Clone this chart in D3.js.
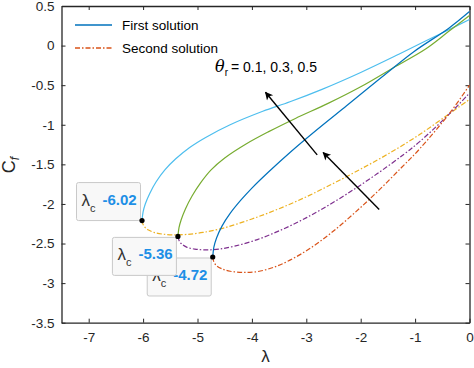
<!DOCTYPE html>
<html>
<head>
<meta charset="utf-8">
<script src="https://cdn.jsdelivr.net/npm/d3@7"></script>
<style>
  html, body { margin: 0; padding: 0; background: #fff; }
  svg { display: block; font-family: "Liberation Sans", Arial, sans-serif; }
</style>
</head>
<body>
<svg id="chart" width="474" height="368"></svg>
<script>
// ---------- data ----------
const xTicks = [-7, -6, -5, -4, -3, -2, -1, 0];
const yTicks = [0.5, 0, -0.5, -1, -1.5, -2, -2.5, -3, -3.5];
const thetaLabels = ["0.1", "0.3", "0.5"];

// critical points (lambda_c, Cf at turning point)
const lambdaC = [-6.02, -5.36, -4.72];
const cfC = [-2.21, -2.41, -2.67];

// First solution (upper branches)
const first1Lam = [-6.02, -6.00, -5.96, -5.88, -5.76, -5.60, -5.40, -5.15, -4.85, -4.40, -3.80, -3.30, -2.70, -2.00, -1.30, -0.80, -0.38, 0];
const first1Cf  = [-2.21, -2.10, -2.00, -1.87, -1.72, -1.57, -1.43, -1.29, -1.16, -1.00, -0.83, -0.71, -0.55, -0.34, -0.11, 0.06, 0.20, 0.33];
const first2Lam = [-5.36, -5.34, -5.30, -5.22, -5.10, -4.95, -4.75, -4.50, -4.10, -3.70, -3.20, -2.60, -2.00, -1.40, -0.80, -0.38, 0];
const first2Cf  = [-2.41, -2.30, -2.20, -2.06, -1.90, -1.74, -1.57, -1.42, -1.24, -1.09, -0.92, -0.73, -0.52, -0.28, -0.04, 0.18, 0.38];
const first3Lam = [-4.72, -4.70, -4.65, -4.55, -4.40, -4.20, -4.00, -3.70, -3.30, -2.80, -2.26, -1.65, -1.03, -0.38, 0];
const first3Cf  = [-2.67, -2.55, -2.43, -2.28, -2.12, -1.95, -1.80, -1.60, -1.35, -1.06, -0.76, -0.42, -0.08, 0.22, 0.43];

// Second solution (lower branches)
const second1Lam = [-6.02, -6.00, -5.96, -5.90, -5.80, -5.65, -5.45, -5.20, -4.90, -4.50, -4.00, -3.50, -3.00, -2.50, -2.00, -1.50, -0.91, -0.35, 0];
const second1Cf  = [-2.21, -2.26, -2.30, -2.33, -2.36, -2.38, -2.39, -2.385, -2.36, -2.30, -2.19, -2.06, -1.91, -1.74, -1.56, -1.37, -1.12, -0.85, -0.68];
const second2Lam = [-5.36, -5.34, -5.30, -5.20, -5.05, -4.85, -4.60, -4.30, -3.90, -3.50, -3.10, -2.70, -2.20, -1.70, -1.20, -0.91, -0.35, 0];
const second2Cf  = [-2.41, -2.46, -2.50, -2.545, -2.57, -2.58, -2.57, -2.53, -2.45, -2.34, -2.21, -2.06, -1.85, -1.62, -1.37, -1.21, -0.85, -0.60];
const second3Lam = [-4.72, -4.70, -4.65, -4.55, -4.40, -4.15, -3.90, -3.60, -3.30, -2.95, -2.55, -2.14, -1.70, -1.25, -0.91, -0.35, 0];
const second3Cf  = [-2.67, -2.73, -2.78, -2.82, -2.85, -2.865, -2.855, -2.80, -2.71, -2.57, -2.37, -2.13, -1.85, -1.54, -1.30, -0.84, -0.50];

const firstColors = ["#4DBEEE", "#77AC30", "#0072BD"];
const secondColors = ["#EDB120", "#7E2F8E", "#D95319"];

// ---------- setup ----------
const svg = d3.select("#chart");
const L = 61.5, R = 469.5, T = 6, B = 322.7;
const x = d3.scaleLinear().domain([-7.5, 0]).range([L, R]);
const y = d3.scaleLinear().domain([-3.5, 0.5]).range([B, T]);
const axisColor = "#262626";

// ---------- axes ----------
const fmt = d => String(d);
const gx = svg.append("g").attr("transform", `translate(0,${B})`)
  .call(d3.axisBottom(x).tickValues(xTicks).tickFormat(fmt).tickSizeInner(-4).tickSizeOuter(0).tickPadding(10));
const gy = svg.append("g").attr("transform", `translate(${L},0)`)
  .call(d3.axisLeft(y).tickValues(yTicks).tickFormat(fmt).tickSizeInner(-4).tickSizeOuter(0).tickPadding(7));
const gxt = svg.append("g").attr("transform", `translate(0,${T})`)
  .call(d3.axisTop(x).tickValues(xTicks).tickFormat("").tickSizeInner(-4).tickSizeOuter(0));
const gyr = svg.append("g").attr("transform", `translate(${R},0)`)
  .call(d3.axisRight(y).tickValues(yTicks).tickFormat("").tickSizeInner(-4).tickSizeOuter(0));
[gx, gy, gxt, gyr].forEach(g => {
  g.select(".domain").attr("stroke", axisColor).attr("stroke-width", 1.3);
  g.selectAll(".tick line").attr("stroke", axisColor).attr("stroke-width", 1);
  g.selectAll(".tick text").attr("fill", axisColor).style("font-size", "13.5px");
});

// axis labels
svg.append("text").attr("x", (L + R) / 2).attr("y", 362).attr("text-anchor", "middle")
  .style("font-size", "17px").attr("fill", axisColor).text("λ");
const yl = svg.append("text").attr("transform", "translate(15,165) rotate(-90)")
  .attr("text-anchor", "middle").style("font-size", "18px").attr("fill", axisColor);
yl.append("tspan").text("C");
yl.append("tspan").attr("dy", 4).style("font-size", "12px").style("font-style", "italic").text("f");

// ---------- curves ----------
const line = d3.line().x(d => x(d[0])).y(d => y(d[1])).curve(d3.curveCatmullRom.alpha(0.5));
const firsts = [[first1Lam, first1Cf], [first2Lam, first2Cf], [first3Lam, first3Cf]];
const seconds = [[second1Lam, second1Cf], [second2Lam, second2Cf], [second3Lam, second3Cf]];

seconds.forEach((s, i) => {
  svg.append("path").datum(d3.zip(s[0], s[1])).attr("d", line)
    .attr("fill", "none").attr("stroke", secondColors[i]).attr("stroke-width", 1.2)
    .attr("stroke-dasharray", "5,2,1.5,2");
});
firsts.forEach((s, i) => {
  svg.append("path").datum(d3.zip(s[0], s[1])).attr("d", line)
    .attr("fill", "none").attr("stroke", firstColors[i]).attr("stroke-width", 1.2);
});

// ---------- legend ----------
const legendItems = [
  { label: "First solution", color: "#0072BD", dash: null, yy: 25 },
  { label: "Second solution", color: "#D95319", dash: "5,2,1.5,2", yy: 48 }
];
legendItems.forEach(it => {
  svg.append("line").attr("x1", 75).attr("x2", 112).attr("y1", it.yy).attr("y2", it.yy)
    .attr("stroke", it.color).attr("stroke-width", 1.3).attr("stroke-dasharray", it.dash);
  svg.append("text").attr("x", 122).attr("y", it.yy + 5).style("font-size", "13.5px")
    .attr("fill", "#000").text(it.label);
});

// ---------- theta annotation ----------
const ann = svg.append("text").attr("x", 215).attr("y", 72).style("font-size", "14px").attr("fill", "#000");
ann.append("tspan").style("font-family", "DejaVu Serif, serif").style("font-style", "italic").style("font-size", "16px").text("θ");
ann.append("tspan").attr("dy", 4).style("font-size", "10px").text("r");
ann.append("tspan").attr("dy", -4).attr("dx", 3).text("= " + thetaLabels.join(", "));

// arrows
const defs = svg.append("defs");
defs.append("marker").attr("id", "ah").attr("viewBox", "0 0 10 10").attr("refX", 9).attr("refY", 5)
  .attr("markerWidth", 11).attr("markerHeight", 8).attr("markerUnits", "userSpaceOnUse").attr("orient", "auto")
  .append("path").attr("d", "M0,0 L10,5 L0,10 L2.5,5 Z").attr("fill", "#000");
const arrows = [
  [[-2.8, -1.38], [-3.75, -0.59]],
  [[-1.66, -2.07], [-2.69, -1.35]]
];
arrows.forEach(a => {
  svg.append("line").attr("x1", x(a[0][0])).attr("y1", y(a[0][1]))
    .attr("x2", x(a[1][0])).attr("y2", y(a[1][1]))
    .attr("stroke", "#000").attr("stroke-width", 1.4).attr("marker-end", "url(#ah)");
});

// ---------- data tips ----------
const boxW = 64, boxH = 38;
const anchors = ["br", "tr", "tr"];
const order = [2, 1, 0];
order.forEach(i => {
  const px = x(lambdaC[i]) - 1.5, py = y(cfC[i]);
  const bx = px - boxW;
  const by = anchors[i] === "br" ? py - boxH : py + 1;
  const g = svg.append("g");
  g.append("rect").attr("x", bx).attr("y", by).attr("width", boxW).attr("height", boxH)
    .attr("rx", 2).attr("fill", "#f8f8f8").attr("stroke", "#c9c9c9").attr("stroke-width", 1);
  const t = g.append("text").attr("x", bx + 5).attr("y", by + 23).attr("fill", "#333");
  t.append("tspan").style("font-size", "17px").text("λ");
  t.append("tspan").attr("dy", 6).style("font-size", "11px").text("c");
  g.append("text").attr("x", bx + 26).attr("y", by + 22).attr("fill", "#1E8FE6")
    .style("font-size", "15px").style("font-weight", "bold").text(lambdaC[i].toFixed(2));
});

// critical point markers
lambdaC.forEach((lc, i) => {
  svg.append("circle").attr("cx", x(lc)).attr("cy", y(cfC[i])).attr("r", 2.6).attr("fill", "#000");
});
</script>
</body>
</html>
